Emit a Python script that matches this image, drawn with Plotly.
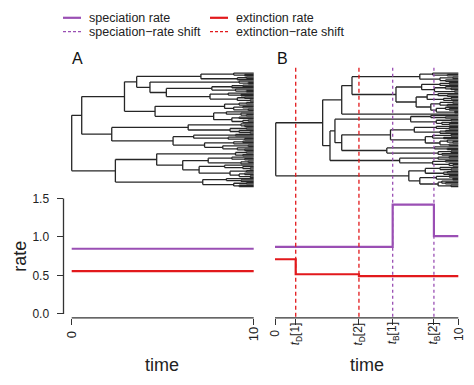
import plotly.graph_objects as go

# ---------------- data ----------------
# lower panels: rate-through-time step functions
A_SPEC_TIMES = [0, 10]
A_SPEC_RATES = [0.846, 0.846]
A_EXT_TIMES = [0, 10]
A_EXT_RATES = [0.555, 0.555]

B_SPEC_TIMES = [0, 6.42, 8.67, 10]
B_SPEC_RATES = [0.87, 1.42, 1.01, 1.01]
B_EXT_TIMES = [0, 1.13, 4.58, 10]
B_EXT_RATES = [0.71, 0.515, 0.49, 0.49]

EXT_SHIFT_TIMES = [1.13, 4.58]      # t_D[1], t_D[2]
SPEC_SHIFT_TIMES = [6.42, 8.67]     # t_B[1], t_B[2]

A_XTICK_VALS = [0, 10]
A_XTICK_TEXT = ["0", "10"]
B_XTICK_VALS = [0, 1.13, 4.58, 6.42, 8.67, 10]
B_XTICK_TEXT = ["0", "<i>t</i><sub>D</sub>[1]", "<i>t</i><sub>D</sub>[2]",
                "<i>t</i><sub>B</sub>[1]", "<i>t</i><sub>B</sub>[2]", "10"]
Y_TICK_VALS = [0, 0.5, 1.0, 1.5]
Y_TICK_TEXT = ["0.0", "0.5", "1.0", "1.5"]

# phylogenies: "(child,child):t" where t = node time; "x" = tip at present (t=10)
TIP_TIME = 10.0
# tree A clades
A_C1 = "((x,(x,x):9.5):8.9,((x,x):9.6,x):9.1):7.1"
A_Ca = "(x,(x,x):9.7):9.2"
A_Cb = "(((x,x):9.4,x):8.8,(x,(x,x):9.6):9.0):7.7"
A_Cc = "((x,(x,x):9.3):8.6,((x,x):9.5,(x,x):9.8):9.1):7.6"
A_Cd = "(((x,x):9.6,x):9.2,((x,x):9.4,(x,x):9.7):8.9):8.4"
A_Ce = "((x,(x,(x,x):9.6):9.3):8.5,((x,x):9.2,((x,x):9.7,x):9.4):8.8):7.8"
A_Cf = "((x,(x,x):9.5):9.3,((x,x):9.6,(x,(x,x):9.8):9.2):8.7):6.4"
A_Cg = "((x,x):9.0,(x,(x,x):9.5):8.6):6.7"
A_Ch = "(((x,x):9.4,x):8.9,((x,x):9.7,(x,(x,x):9.5):9.1):8.3):7.3"
A_Ci = "((x,x):9.6,(x,x):9.4):9.0"
A_Cj = ("(((x,(x,x):9.5):8.8,((x,x):9.7,x):9.3):7.5,"
        "((x,(x,(x,x):9.8):9.4):8.4,((x,x):9.6,((x,x):9.5,(x,x):9.8):9.2):8.7):7.0):6.1")
A_Ck = "((x,(x,x):9.3):8.5,((x,x):9.6,(x,x):9.2):8.9):7.2"
TREE_A = ("((((" + A_C1 + ",(" + A_Ca + ",(" + A_Cb + "," + A_Cc + "):5.2):4.3):3.57,"
          "(" + A_Cd + "," + A_Ce + "):4.58):2.9,"
          "(" + A_Cf + ",(" + A_Cg + "," + A_Ch + "):5.57):2.2):0.55,"
          "((" + A_Ci + "," + A_Cj + "):4.67," + A_Ck + "):2.4):0.0")

# tree B clades
B_D1 = "((x,(x,x):9.4):8.6,((x,x):9.7,(x,x):9.3):9.0):7.9"
B_D2a = "(((x,x):9.5,x):9.0,((x,(x,x):9.6):9.3,(x,x):9.8):8.7):8.0"
B_D2b = ("(((x,(x,x):9.4):8.9,((x,x):9.6,x):9.2):8.3,"
         "(((x,x):9.7,(x,x):9.4):9.0,((x,(x,x):9.5):9.3,(x,x):9.8):8.8):8.5):7.7")
B_D4 = "((x,(x,x):9.3):8.5,((x,x):9.6,(x,(x,x):9.5):9.1):8.8):7.4"
B_D5 = ("(((x,(x,x):9.5):8.8,((x,x):9.3,x):9.0):7.6,"
        "(((x,x):9.6,(x,x):9.2):8.6,((x,(x,x):9.7):9.4,(x,x):9.5):9.0):8.2):6.3")
B_D6 = "((x,(x,x):9.4):8.7,((x,x):9.6,(x,x):9.1):8.9):6.1"
B_D7 = "(((x,x):9.5,x):8.9,((x,x):9.3,(x,(x,x):9.7):9.5):8.6):6.8"
B_BOT = ("(((x,(x,x):9.6):9.0,((x,x):9.4,x):9.2):8.2,"
         "(((x,x):9.5,(x,x):9.7):8.8,((x,(x,x):9.3):9.1,(x,x):9.6):8.9):7.9):7.3")
TREE_B = ("((((" + B_D1 + ",(" + B_D2a + "," + B_D2b + "):6.6):4.2,x):3.64,"
          "((" + B_D4 + ",(" + B_D5 + "," + B_D6 + "):3.64):3.27," + B_D7 + "):3.0):2.6,"
          + B_BOT + "):0.04")

# ---------------- styling ----------------
PURPLE = "#9a4fb4"
RED = "#e2191c"
TREE_COL = "#262626"
AX_COL = "#333333"
FONT = "Liberation Sans, Arial, sans-serif"
W, H = 474, 385


def parse(s):
    s = s.replace(" ", "")
    pos = 0

    def node():
        nonlocal pos
        if s[pos] == "(":
            pos += 1
            kids = [node()]
            while s[pos] == ",":
                pos += 1
                kids.append(node())
            pos += 1  # ')'
            pos += 1  # ':'
            j = pos
            while pos < len(s) and (s[pos].isdigit() or s[pos] == "."):
                pos += 1
            return {"t": float(s[j:pos]), "kids": kids}
        pos += 1
        return {"t": TIP_TIME, "kids": []}

    return node()


def tree_segments(root):
    xs, ys = [], []
    counter = [0]

    def walk(n, parent_t):
        if not n["kids"]:
            y = counter[0]
            counter[0] += 1
        else:
            cy = [walk(k, n["t"]) for k in n["kids"]]
            y = (cy[0] + cy[-1]) / 2
            xs.extend([n["t"], n["t"], None])
            ys.extend([cy[0], cy[-1], None])
        if parent_t is not None:
            xs.extend([parent_t, n["t"], None])
            ys.extend([y, y, None])
        return y

    walk(root, None)
    return xs, ys, counter[0]


def px(x):
    return x / W


def py(y):
    return 1 - y / H


# pixel geometry
T0A, T10A = 71.7, 253.7
T0B, T10B = 275.0, 458.3
DOM_A = (63.5, 261.5)
DOM_B = (267.0, 466.0)
LOW_Y = (194.0, 320.0)     # top, bottom (px)
R0, R15 = 316.0, 199.0
TREE_Y = (65.0, 197.0)
TIP_TOP, TIP_BOT = 72.0, 187.0
XLAB_Y_A, XLAB_Y_B = 337.0, 336.0   # centre of rotated tick labels


def xrange_for(dom, t0, t10):
    s = (t10 - t0) / 10.0
    return [(dom[0] - t0) / s, (dom[1] - t0) / s]


s_rate = (R0 - R15) / 1.5
y_low_range = [(R0 - LOW_Y[1]) / s_rate, (R0 - LOW_Y[0]) / s_rate]

fig = go.Figure()

# trees
treeA = tree_segments(parse(TREE_A))
treeB = tree_segments(parse(TREE_B))
fig.add_trace(go.Scatter(x=treeA[0], y=treeA[1], mode="lines", xaxis="x3", yaxis="y3",
                         line=dict(color=TREE_COL, width=1.3), hoverinfo="skip", showlegend=False))
fig.add_trace(go.Scatter(x=treeB[0], y=treeB[1], mode="lines", xaxis="x4", yaxis="y4",
                         line=dict(color=TREE_COL, width=1.3), hoverinfo="skip", showlegend=False))

# rate lines
fig.add_trace(go.Scatter(x=A_SPEC_TIMES, y=A_SPEC_RATES, mode="lines", line_shape="hv",
                         line=dict(color=PURPLE, width=2.2), xaxis="x", yaxis="y", showlegend=False))
fig.add_trace(go.Scatter(x=A_EXT_TIMES, y=A_EXT_RATES, mode="lines", line_shape="hv",
                         line=dict(color=RED, width=2.2), xaxis="x", yaxis="y", showlegend=False))
fig.add_trace(go.Scatter(x=B_SPEC_TIMES, y=B_SPEC_RATES, mode="lines", line_shape="hv",
                         line=dict(color=PURPLE, width=2.2), xaxis="x2", yaxis="y2", showlegend=False))
fig.add_trace(go.Scatter(x=B_EXT_TIMES, y=B_EXT_RATES, mode="lines", line_shape="hv",
                         line=dict(color=RED, width=2.2), xaxis="x2", yaxis="y2", showlegend=False))


def tree_yrange(n):
    s = (TIP_BOT - TIP_TOP) / (n - 1)
    return [(TREE_Y[1] - TIP_TOP) / s, (TREE_Y[0] - TIP_TOP) / s]


tickfont = dict(family=FONT, size=12, color="#222")
common_x = dict(showgrid=False, zeroline=False, showline=False, ticks="outside", ticklen=6,
                tickwidth=1, tickcolor=AX_COL, showticklabels=False, tickmode="array")
hidden = dict(visible=False, showgrid=False, zeroline=False)

fig.update_layout(
    width=W, height=H, autosize=False,
    margin=dict(l=0, r=0, t=0, b=0),
    paper_bgcolor="white", plot_bgcolor="white",
    font=dict(family=FONT, color="#222"),
    xaxis=dict(domain=[px(DOM_A[0]), px(DOM_A[1])], range=xrange_for(DOM_A, T0A, T10A),
               tickvals=A_XTICK_VALS, anchor="y", **common_x),
    yaxis=dict(domain=[py(LOW_Y[1]), py(LOW_Y[0])], range=y_low_range, anchor="x",
               showgrid=False, zeroline=False, showline=False, ticks="outside", ticklen=6,
               tickwidth=1, tickcolor=AX_COL, tickfont=tickfont, tickmode="array",
               tickvals=Y_TICK_VALS, ticktext=Y_TICK_TEXT, ticklabelstandoff=5),
    xaxis2=dict(domain=[px(DOM_B[0]), px(DOM_B[1])], range=xrange_for(DOM_B, T0B, T10B),
                tickvals=B_XTICK_VALS, anchor="y2", **common_x),
    yaxis2=dict(domain=[py(LOW_Y[1]), py(LOW_Y[0])], range=y_low_range, anchor="x2", **hidden),
    xaxis3=dict(domain=[px(DOM_A[0]), px(DOM_A[1])], range=xrange_for(DOM_A, T0A, T10A),
                anchor="y3", **hidden),
    yaxis3=dict(domain=[py(TREE_Y[1]), py(TREE_Y[0])], range=tree_yrange(treeA[2]),
                anchor="x3", **hidden),
    xaxis4=dict(domain=[px(DOM_B[0]), px(DOM_B[1])], range=xrange_for(DOM_B, T0B, T10B),
                anchor="y4", **hidden),
    yaxis4=dict(domain=[py(TREE_Y[1]), py(TREE_Y[0])], range=tree_yrange(treeB[2]),
                anchor="x4", **hidden),
)

shapes = []
# R-style axis lines
shapes.append(dict(type="line", xref="x", yref="y domain", x0=A_XTICK_VALS[0], x1=A_XTICK_VALS[-1],
                   y0=0, y1=0, line=dict(color=AX_COL, width=1.3)))
shapes.append(dict(type="line", xref="x domain", yref="y", x0=0, x1=0, y0=Y_TICK_VALS[0],
                   y1=Y_TICK_VALS[-1], line=dict(color=AX_COL, width=1.3)))
shapes.append(dict(type="line", xref="x2", yref="y2 domain", x0=B_XTICK_VALS[0], x1=B_XTICK_VALS[-1],
                   y0=0, y1=0, line=dict(color=AX_COL, width=1.3)))
# shift lines spanning both B panels
for t in EXT_SHIFT_TIMES:
    shapes.append(dict(type="line", xref="x2", yref="paper", x0=t, x1=t, y0=py(319), y1=py(65),
                       line=dict(color=RED, width=1.3, dash="4px,3px")))
for t in SPEC_SHIFT_TIMES:
    shapes.append(dict(type="line", xref="x2", yref="paper", x0=t, x1=t, y0=py(319), y1=py(65),
                       line=dict(color=PURPLE, width=1.3, dash="3px,3px")))

annotations = []
# rotated x tick labels (R las=2 style), placed at the axis tick values
for v, txt in zip(A_XTICK_VALS, A_XTICK_TEXT):
    annotations.append(dict(text=txt, x=v, xref="x", y=py(XLAB_Y_A), yref="paper", textangle=-90,
                            showarrow=False, xanchor="center", yanchor="middle",
                            font=dict(family=FONT, size=13, color="#222")))
for v, txt in zip(B_XTICK_VALS, B_XTICK_TEXT):
    annotations.append(dict(text=txt, x=v, xref="x2", y=py(XLAB_Y_B), yref="paper", textangle=-90,
                            showarrow=False, xanchor="center", yanchor="middle",
                            font=dict(family=FONT, size=12, color="#222")))

# legend
LEG = [("speciation rate", PURPLE, "solid", 63, 16),
       ("speciation\u2212rate shift", PURPLE, "dash", 63, 30),
       ("extinction rate", RED, "solid", 210, 16),
       ("extinction\u2212rate shift", RED, "dash", 210, 30)]
for label, col, style, x0, y0 in LEG:
    shapes.append(dict(type="line", xref="paper", yref="paper", x0=px(x0), x1=px(x0 + 18),
                       y0=py(y0), y1=py(y0),
                       line=dict(color=col, width=2.2 if style == "solid" else 1.2,
                                 dash="solid" if style == "solid" else "3px,2px")))
    annotations.append(dict(text=label, xref="paper", yref="paper", x=px(x0 + 24), y=py(y0),
                            xanchor="left", yanchor="middle", showarrow=False,
                            font=dict(family=FONT, size=12.5, color="#222")))

# panel labels and axis titles
annotations += [
    dict(text="A", x=px(77.5), y=py(57.5), xref="paper", yref="paper", showarrow=False,
         xanchor="center", yanchor="middle", font=dict(family=FONT, size=16, color="#111")),
    dict(text="B", x=px(282.5), y=py(57.5), xref="paper", yref="paper", showarrow=False,
         xanchor="center", yanchor="middle", font=dict(family=FONT, size=16, color="#111")),
    dict(text="rate", x=px(20), y=py(258), xref="paper", yref="paper", showarrow=False,
         textangle=-90, xanchor="center", yanchor="middle", font=dict(family=FONT, size=18, color="#222")),
    dict(text="time", x=px(162), y=py(368), xref="paper", yref="paper", showarrow=False,
         xanchor="center", yanchor="middle", font=dict(family=FONT, size=18, color="#222")),
    dict(text="time", x=px(367), y=py(368), xref="paper", yref="paper", showarrow=False,
         xanchor="center", yanchor="middle", font=dict(family=FONT, size=18, color="#222")),
]

fig.update_layout(shapes=shapes, annotations=annotations)
fig.write_html("out.html", config={"displayModeBar": False},
               post_script="document.body.style.margin='0';document.body.style.overflow='hidden';")
